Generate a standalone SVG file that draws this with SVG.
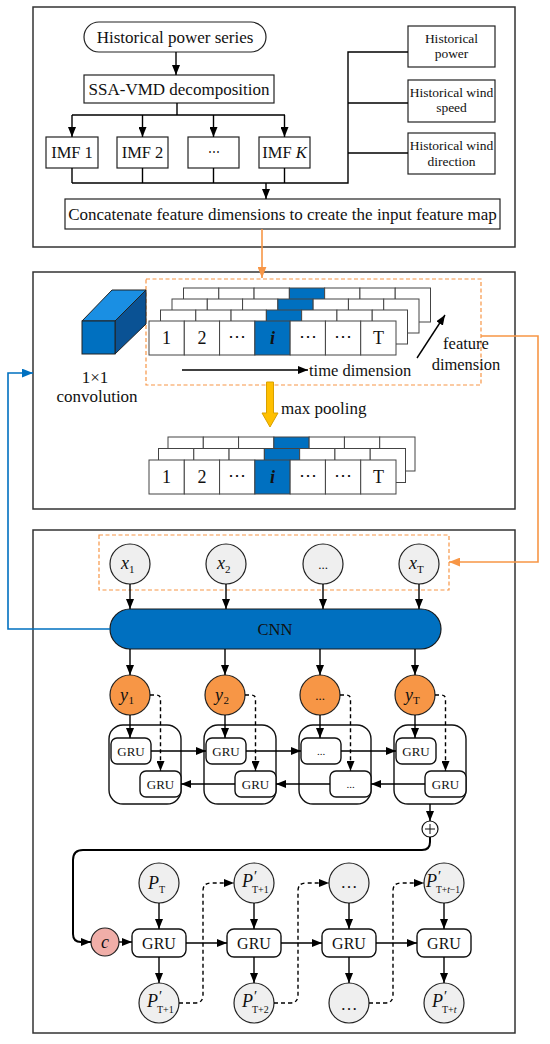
<svg xmlns="http://www.w3.org/2000/svg" xmlns:xlink="http://www.w3.org/1999/xlink" width="550" height="1044" viewBox="0 0 550 1044">
<style>
text{font-family:"Liberation Serif","DejaVu Serif",serif;fill:#111}
.c{text-anchor:middle}
.panel{fill:#fff;stroke:#333;stroke-width:1.5}
.box{fill:#fff;stroke:#222;stroke-width:1.2}
.rbox{fill:#fff;stroke:#111;stroke-width:1.4}
.ln{fill:none;stroke:#000;stroke-width:1.4}
.arr{fill:none;stroke:#000;stroke-width:1.4;marker-end:url(#ah)}
.darr{fill:none;stroke:#000;stroke-width:1.4;stroke-dasharray:4 3;marker-end:url(#ah)}
.cell{fill:#fff;stroke:#444;stroke-width:1}
.bcell{fill:#0070C0;stroke:#444;stroke-width:1}
.gc{fill:#EFEFEF;stroke:#222;stroke-width:1.2}
.oc{fill:#F79646;stroke:#222;stroke-width:1.2}
.odash{fill:none;stroke:#F79646;stroke-width:1.2;stroke-dasharray:4 2.5}
.i{font-style:italic}
</style>
<defs>
<marker id="ah" viewBox="0 0 10 8" refX="10" refY="4" markerWidth="10" markerHeight="8" markerUnits="userSpaceOnUse" orient="auto"><path d="M0,0L10,4L0,8z" fill="#000"/></marker>
<marker id="ao" viewBox="0 0 10 8" refX="10" refY="4" markerWidth="11" markerHeight="9" markerUnits="userSpaceOnUse" orient="auto"><path d="M0,0L10,4L0,8z" fill="#F79646"/></marker>
<marker id="ab" viewBox="0 0 10 8" refX="10" refY="4" markerWidth="11" markerHeight="9" markerUnits="userSpaceOnUse" orient="auto"><path d="M0,0L10,4L0,8z" fill="#0070C0"/></marker>
<g id="layer">
<rect class="cell" x="0" y="0" width="35.29" height="34"/>
<rect class="cell" x="35.29" y="0" width="35.29" height="34"/>
<rect class="cell" x="70.57" y="0" width="35.29" height="34"/>
<rect class="bcell" x="105.86" y="0" width="35.29" height="34"/>
<rect class="cell" x="141.14" y="0" width="35.29" height="34"/>
<rect class="cell" x="176.43" y="0" width="35.29" height="34"/>
<rect class="cell" x="211.71" y="0" width="35.29" height="34"/>
</g>
</defs>
<rect width="550" height="1044" fill="#fff"/>

<!-- panels -->
<g id="panel-top"><rect class="panel" x="33" y="7" width="482" height="240"/></g>
<g id="panel-mid"><rect class="panel" x="33" y="272" width="482" height="237"/></g>
<g id="panel-bot"><rect class="panel" x="33" y="530" width="482" height="503"/></g>

<!-- ===== top section nodes ===== -->
<g id="hist-series"><rect class="box" x="84" y="22" width="182" height="30" rx="15"/><text class="c" x="175" y="43" font-size="17">Historical power series</text></g>
<g id="ssa-vmd"><rect class="box" x="84" y="75" width="190" height="28"/><text class="c" x="179" y="95" font-size="17">SSA-VMD decomposition</text></g>
<g id="imf1"><rect class="box" x="46" y="137" width="52" height="31"/><text class="c" x="72" y="158" font-size="16.5">IMF 1</text></g>
<g id="imf2"><rect class="box" x="117" y="137" width="51" height="31"/><text class="c" x="142.5" y="158" font-size="16.5">IMF 2</text></g>
<g id="imfdots"><rect class="box" x="188" y="137" width="51" height="31"/><text class="c" x="213.5" y="156" font-size="12">⋯</text></g>
<g id="imfk"><rect class="box" x="259" y="137" width="51" height="31"/><text class="c" x="284.5" y="158" font-size="16.5">IMF <tspan class="i">K</tspan></text></g>
<g id="concat"><rect class="box" x="65" y="199" width="435" height="30"/><text class="c" x="282.5" y="220" font-size="17">Concatenate feature dimensions to create the input feature map</text></g>
<g id="hp"><rect class="box" x="408" y="26" width="87" height="41"/><text class="c" x="451.5" y="43" font-size="13.5">Historical</text><text class="c" x="451.5" y="58" font-size="13.5">power</text></g>
<g id="hws"><rect class="box" x="408" y="80" width="87" height="42"/><text class="c" x="451.5" y="96.5" font-size="13.5">Historical wind</text><text class="c" x="451.5" y="112" font-size="13.5">speed</text></g>
<g id="hwd"><rect class="box" x="408" y="133" width="87" height="41"/><text class="c" x="451.5" y="149.5" font-size="13.5">Historical wind</text><text class="c" x="451.5" y="165.5" font-size="13.5">direction</text></g>

<!-- ===== middle section ===== -->
<g id="feature-map">
<rect class="odash" x="146" y="279" width="335" height="106"/>
<use xlink:href="#layer" href="#layer" x="183.5" y="288"/>
<use xlink:href="#layer" href="#layer" x="172" y="299"/>
<use xlink:href="#layer" href="#layer" x="160.5" y="310"/>
<use xlink:href="#layer" href="#layer" x="149" y="321"/>
<g font-size="18">
<text class="c" x="166.6" y="344">1</text>
<text class="c" x="201.9" y="344">2</text>
<text class="c" x="237.2" y="342">⋯</text>
<text class="c" x="272.5" y="344" font-weight="bold" font-style="italic">i</text>
<text class="c" x="307.8" y="342">⋯</text>
<text class="c" x="343.1" y="342">⋯</text>
<text class="c" x="378.4" y="344">T</text>
</g>
<text x="309" y="376" font-size="16.5">time dimension</text>
<text class="c" x="466" y="349" font-size="16.5">feature</text>
<text class="c" x="466" y="370" font-size="16.5">dimension</text>
</g>
<g id="conv-cube">
<polygon points="82,321 112,290 146,290 115,321" fill="#1A8FE3" stroke="#222" stroke-width="1"/>
<polygon points="115,321 146,290 146,324 115,354" fill="#0A5294" stroke="#222" stroke-width="1"/>
<rect x="82" y="321" width="33" height="33" fill="#0070C0" stroke="#222" stroke-width="1"/>
<text class="c" x="95" y="383" font-size="17">1×1</text>
<text class="c" x="97" y="402" font-size="17">convolution</text>
</g>
<g id="max-pool">
<polygon points="266.5,382 273.5,382 273.5,413 278,413 270,427 262,413 266.5,413" fill="#FFC000" stroke="#D9A000" stroke-width="1"/>
<text x="281" y="414" font-size="17">max pooling</text>
</g>
<g id="pooled-map">
<use xlink:href="#layer" href="#layer" x="168" y="437"/>
<use xlink:href="#layer" href="#layer" x="158.5" y="448.5"/>
<use xlink:href="#layer" href="#layer" x="149" y="460"/>
<g font-size="18">
<text class="c" x="166.6" y="483">1</text>
<text class="c" x="201.9" y="483">2</text>
<text class="c" x="237.2" y="481">⋯</text>
<text class="c" x="272.5" y="483" font-weight="bold" font-style="italic">i</text>
<text class="c" x="307.8" y="481">⋯</text>
<text class="c" x="343.1" y="481">⋯</text>
<text class="c" x="378.4" y="483">T</text>
</g>
</g>

<!-- ===== bottom section nodes ===== -->
<g id="inputs">
<rect class="odash" x="99" y="535" width="350" height="55"/>
<circle class="gc" cx="130" cy="564" r="20"/><text x="121" y="569" font-size="18" class="i">x</text><text x="129" y="573" font-size="11">1</text>
<circle class="gc" cx="226" cy="564" r="20"/><text x="217" y="569" font-size="18" class="i">x</text><text x="225" y="573" font-size="11">2</text>
<circle class="gc" cx="323" cy="564" r="20"/><text class="c" x="323" y="569" font-size="13">...</text>
<circle class="gc" cx="419" cy="564" r="20"/><text x="409" y="569" font-size="18" class="i">x</text><text x="417" y="573" font-size="11">T</text>
</g>
<g id="cnn"><rect x="110" y="609" width="331" height="40" rx="20" fill="#0070C0" stroke="#1a1a1a" stroke-width="1.2"/><text class="c" x="275" y="635" font-size="16.5" fill="#0b1a2b">CNN</text></g>
<g id="ys">
<circle class="oc" cx="130" cy="695" r="20"/><text x="120" y="701" font-size="18" class="i">y</text><text x="128.5" y="704" font-size="11">1</text>
<circle class="oc" cx="225" cy="695" r="20"/><text x="215" y="701" font-size="18" class="i">y</text><text x="223.5" y="704" font-size="11">2</text>
<circle class="oc" cx="320" cy="695" r="20"/><text class="c" x="320" y="700" font-size="13">...</text>
<circle class="oc" cx="415" cy="695" r="20"/><text x="405" y="701" font-size="18" class="i">y</text><text x="413" y="704" font-size="11">T</text>
</g>
<g id="bigru1"><rect class="rbox" x="109" y="725" width="72" height="79" rx="14"/><rect class="rbox" x="111" y="738" width="40" height="26" rx="6"/><text class="c" x="131" y="756" font-size="13">GRU</text><rect class="rbox" x="140" y="771" width="41" height="26" rx="6"/><text class="c" x="160.5" y="789" font-size="13">GRU</text></g>
<g id="bigru2"><rect class="rbox" x="204" y="725" width="72" height="79" rx="14"/><rect class="rbox" x="206" y="738" width="40" height="26" rx="6"/><text class="c" x="226" y="756" font-size="13">GRU</text><rect class="rbox" x="235" y="771" width="41" height="26" rx="6"/><text class="c" x="255.5" y="789" font-size="13">GRU</text></g>
<g id="bigru3"><rect class="rbox" x="299" y="725" width="72" height="79" rx="14"/><rect class="rbox" x="301" y="738" width="40" height="26" rx="6"/><text class="c" x="321" y="755" font-size="11">...</text><rect class="rbox" x="330" y="771" width="41" height="26" rx="6"/><text class="c" x="350.5" y="788" font-size="11">...</text></g>
<g id="bigru4"><rect class="rbox" x="394" y="725" width="72" height="79" rx="14"/><rect class="rbox" x="396" y="738" width="40" height="26" rx="6"/><text class="c" x="416" y="756" font-size="13">GRU</text><rect class="rbox" x="425" y="771" width="41" height="26" rx="6"/><text class="c" x="445.5" y="789" font-size="13">GRU</text></g>
<g id="plus"><circle cx="430" cy="829" r="8" fill="#fff" stroke="#111" stroke-width="1.2"/><path d="M425,829H435M430,824V834" stroke="#111" stroke-width="1"/></g>
<g id="ctx"><circle cx="105" cy="942" r="14" fill="#F0AEA8" stroke="#222" stroke-width="1.2"/><text class="c i" x="105" y="948" font-size="18">c</text></g>
<g id="dec-gru">
<rect class="rbox" x="132" y="929" width="54" height="28" rx="7"/><text class="c" x="159" y="949" font-size="16">GRU</text>
<rect class="rbox" x="227" y="929" width="54" height="28" rx="7"/><text class="c" x="254" y="949" font-size="16">GRU</text>
<rect class="rbox" x="322" y="929" width="54" height="28" rx="7"/><text class="c" x="349" y="949" font-size="16">GRU</text>
<rect class="rbox" x="417" y="929" width="54" height="28" rx="7"/><text class="c" x="444" y="949" font-size="16">GRU</text>
</g>
<g id="dec-in">
<circle class="gc" cx="159" cy="883" r="20"/><text x="148" y="889" font-size="18" class="i">P</text><text x="159" y="893" font-size="10">T</text>
<circle class="gc" cx="254" cy="883" r="20"/><text x="242" y="887" font-size="18" class="i">P</text><text x="254" y="881" font-size="15">′</text><text x="252" y="893" font-size="10">T+1</text>
<circle class="gc" cx="349" cy="883" r="20"/><text class="c" x="349" y="888" font-size="17">…</text>
<circle class="gc" cx="444" cy="883" r="20"/><text x="426" y="887" font-size="18" class="i">P</text><text x="438" y="881" font-size="15">′</text><text x="436" y="893" font-size="9.5">T+<tspan class="i">t</tspan>−1</text>
</g>
<g id="dec-out">
<circle class="gc" cx="159" cy="1003" r="20"/><text x="147" y="1007" font-size="18" class="i">P</text><text x="159" y="1001" font-size="15">′</text><text x="157" y="1013" font-size="10">T+1</text>
<circle class="gc" cx="254" cy="1003" r="20"/><text x="242" y="1007" font-size="18" class="i">P</text><text x="254" y="1001" font-size="15">′</text><text x="252" y="1013" font-size="10">T+2</text>
<circle class="gc" cx="349" cy="1003" r="20"/><text class="c" x="349" y="1010" font-size="17">…</text>
<circle class="gc" cx="444" cy="1003" r="20"/><text x="432" y="1007" font-size="18" class="i">P</text><text x="444" y="1001" font-size="15">′</text><text x="442" y="1013" font-size="10">T+<tspan class="i">t</tspan></text>
</g>

<!-- ===== connectors ===== -->
<g id="connectors">
<path class="arr" d="M176,52V75"/>
<path class="ln" d="M177,103V115M72,115H285"/>
<path class="arr" d="M72,115V137"/><path class="arr" d="M142.5,115V137"/><path class="arr" d="M213.5,115V137"/><path class="arr" d="M284.5,115V137"/>
<path class="ln" d="M72,168V183M142.5,168V183M213.5,168V183M284.5,168V183M72,183H348V52H408M348,103H408M348,153H408"/>
<path class="arr" d="M266,183V199"/>
<path d="M262,229V278" fill="none" stroke="#F79646" stroke-width="1.6" marker-end="url(#ao)"/>
<path class="arr" d="M182,370H308"/>
<path class="arr" d="M417,358L445,315"/>
<path d="M481,336H538V562H449" fill="none" stroke="#F79646" stroke-width="1.6" marker-end="url(#ao)"/>
<path d="M110,629H8V373H33" fill="none" stroke="#0070C0" stroke-width="1.6" marker-end="url(#ab)"/>
<path class="arr" d="M130,584V609"/><path class="arr" d="M226,584V609"/><path class="arr" d="M323,584V609"/><path class="arr" d="M419,584V609"/>
<path class="arr" d="M130,649V675"/><path class="arr" d="M225,649V675"/><path class="arr" d="M320,649V675"/><path class="arr" d="M415,649V675"/>
<path class="arr" d="M130,715V738"/><path class="arr" d="M225,715V738"/><path class="arr" d="M320,715V738"/><path class="arr" d="M415,715V738"/>
<path class="darr" d="M150,695H156Q160.5,695 160.5,699V771"/>
<path class="darr" d="M245,695H251Q255.5,695 255.5,699V771"/>
<path class="darr" d="M340,695H346Q350.5,695 350.5,699V771"/>
<path class="darr" d="M435,695H441Q445.5,695 445.5,699V771"/>
<path class="arr" d="M151,751H206"/><path class="arr" d="M246,751H301"/><path class="arr" d="M341,751H396"/>
<path class="arr" d="M235,784H181"/><path class="arr" d="M330,784H276"/><path class="arr" d="M425,784H371"/>
<path class="arr" d="M430,804V821"/>
<path d="M430,837V842Q430,850 422,850H83Q73,850 73,860V934Q73,942 81,942H91" fill="none" stroke="#000" stroke-width="2" marker-end="url(#ah)"/>
<path class="arr" d="M119,942H132"/>
<path class="arr" d="M186,943H227"/><path class="arr" d="M281,943H322"/><path class="arr" d="M376,943H417"/>
<path class="arr" d="M159,903V929"/><path class="arr" d="M254,903V929"/><path class="arr" d="M349,903V929"/><path class="arr" d="M444,903V929"/>
<path class="arr" d="M159,957V983"/><path class="arr" d="M254,957V983"/><path class="arr" d="M349,957V983"/><path class="arr" d="M444,957V983"/>
<path class="darr" d="M179,1003H195Q203,1003 203,995V891Q203,883 211,883H234"/>
<path class="darr" d="M274,1003H290Q298,1003 298,995V891Q298,883 306,883H329"/>
<path class="darr" d="M369,1003H385Q393,1003 393,995V891Q393,883 401,883H424"/>
</g>
</svg>
